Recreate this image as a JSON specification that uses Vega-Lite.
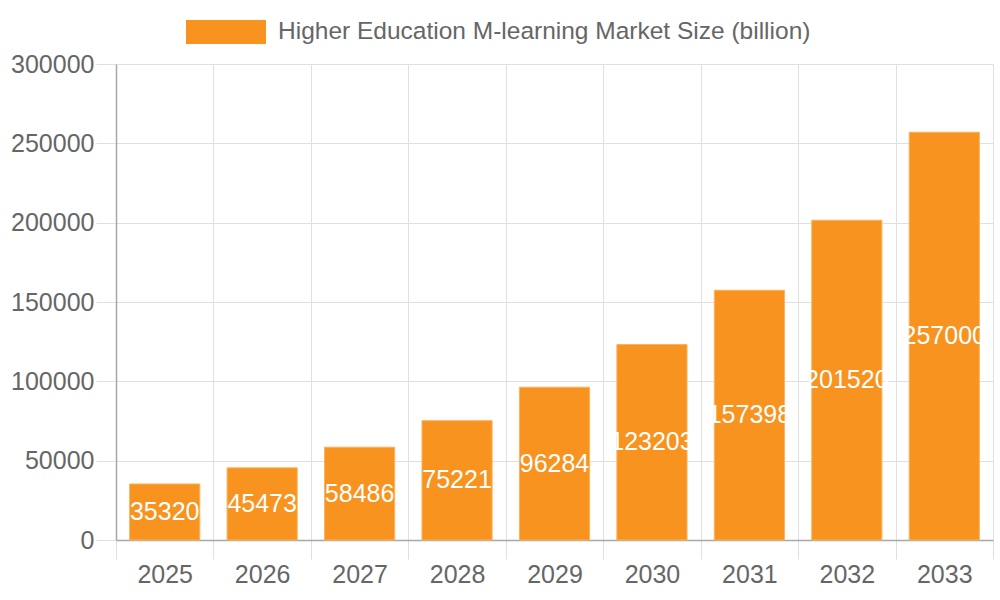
{
  "$schema": "https://vega.github.io/schema/vega-lite/v6.json",
  "width": 877,
  "height": 476,
  "autosize": "none",
  "padding": {"left": 116, "top": 64, "right": 7, "bottom": 60},
  "background": "white",
  "config": {
    "font": "Liberation Sans",
    "view": {"stroke": null}
  },
  "data": {
    "values": [
      {"year": "2025", "size": 35320, "series": "Higher Education M-learning Market Size (billion)"},
      {"year": "2026", "size": 45473, "series": "Higher Education M-learning Market Size (billion)"},
      {"year": "2027", "size": 58486, "series": "Higher Education M-learning Market Size (billion)"},
      {"year": "2028", "size": 75221, "series": "Higher Education M-learning Market Size (billion)"},
      {"year": "2029", "size": 96284, "series": "Higher Education M-learning Market Size (billion)"},
      {"year": "2030", "size": 123203, "series": "Higher Education M-learning Market Size (billion)"},
      {"year": "2031", "size": 157398, "series": "Higher Education M-learning Market Size (billion)"},
      {"year": "2032", "size": 201520, "series": "Higher Education M-learning Market Size (billion)"},
      {"year": "2033", "size": 257000, "series": "Higher Education M-learning Market Size (billion)"}
    ]
  },
  "encoding": {
    "x": {
      "field": "year",
      "type": "nominal",
      "sort": null,
      "scale": {"paddingInner": 0, "paddingOuter": 0},
      "axis": {
        "title": null,
        "labelAngle": 0,
        "labelFontSize": 25,
        "labelColor": "#666666",
        "labelPadding": 3,
        "tickBand": "extent",
        "tickSize": 19,
        "tickColor": "#e0e0e0",
        "grid": true,
        "gridColor": "#e0e0e0",
        "domainColor": "#a8a8a8",
        "domainWidth": 1.5
      }
    }
  },
  "layer": [
    {
      "mark": {"type": "bar", "color": "#F7931E", "stroke": "#FBB35E", "strokeWidth": 1, "width": {"band": 0.72}},
      "encoding": {
        "y": {
          "field": "size",
          "type": "quantitative",
          "scale": {"domain": [0, 300000], "nice": false},
          "axis": {
            "title": null,
            "values": [0, 50000, 100000, 150000, 200000, 250000, 300000],
            "format": "d",
            "labelFontSize": 25,
            "labelColor": "#666666",
            "labelPadding": 2,
            "tickSize": 20,
            "tickColor": "#e0e0e0",
            "gridColor": "#e0e0e0",
            "domainColor": "#a8a8a8",
            "domainWidth": 1.5
          }
        },
        "color": {
          "field": "series",
          "type": "nominal",
          "scale": {"range": ["#F7931E"]},
          "legend": {
            "title": null,
            "orient": "none",
            "legendX": 70,
            "legendY": -72,
            "symbolType": "M-1,-0.3H1V0.3H-1Z",
            "symbolSize": 6400,
            "symbolStrokeWidth": 0,
            "symbolOpacity": 1,
            "labelFontSize": 24.5,
            "labelColor": "#666666",
            "labelOffset": 12,
            "labelLimit": 700
          }
        }
      }
    },
    {
      "mark": {"type": "text", "color": "white", "fontSize": 25, "baseline": "middle", "align": "center"},
      "encoding": {
        "y": {
          "field": "size",
          "type": "quantitative",
          "scale": {"domain": [0, 600000], "nice": false},
          "axis": null
        },
        "text": {"field": "size", "type": "quantitative", "format": "d"}
      }
    }
  ],
  "resolve": {"scale": {"y": "independent"}}
}
